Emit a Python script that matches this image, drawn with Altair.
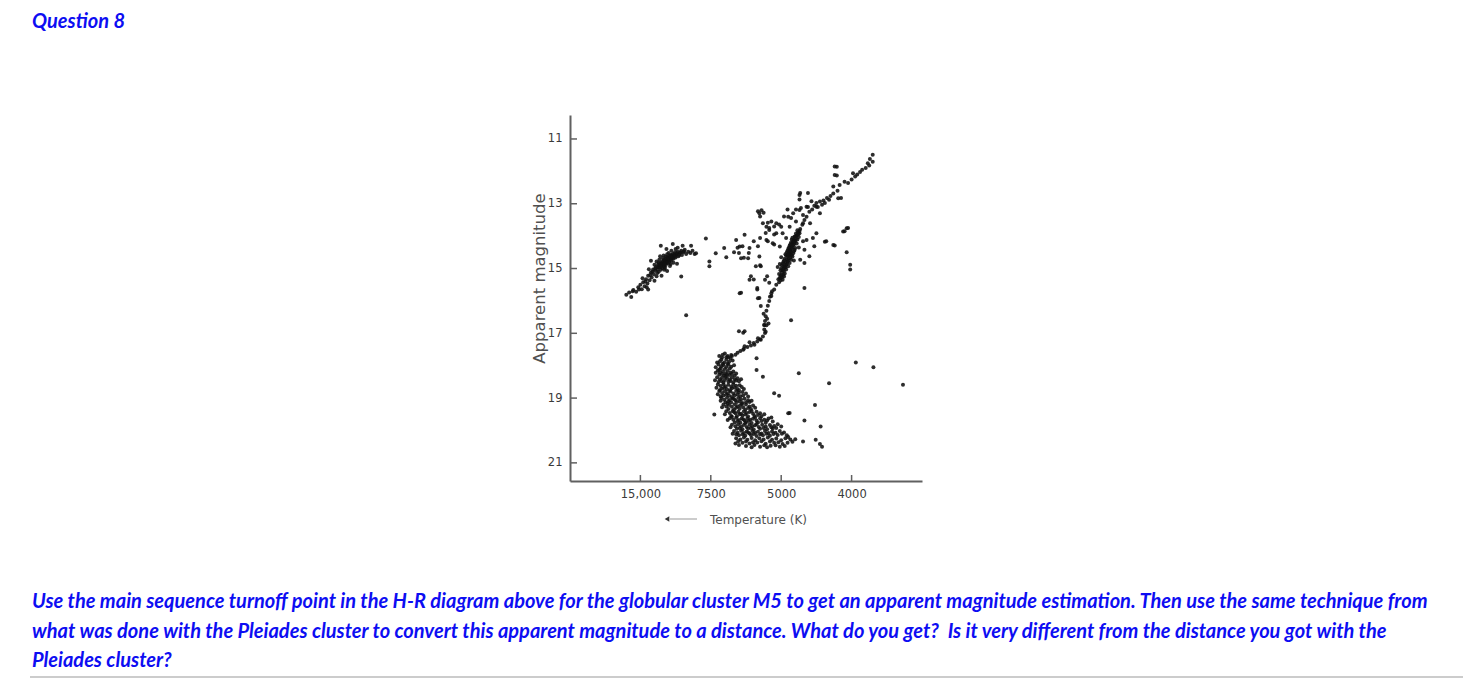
import altair as alt
import pandas as pd

# ---------------- data (color index: 0=15,000 K, 1=7500 K, 2=5000 K, 3=4000 K ; apparent magnitude) -------------
hb_points = [
    (-0.20, 15.81), (-0.13, 15.88), (-0.16, 15.74), (-0.10, 15.66), (-0.06, 15.72), (-0.03, 15.58), (0.00, 15.50),
    (0.02, 15.64), (0.04, 15.42), (0.06, 15.55), (0.08, 15.33), (0.10, 15.46), (0.11, 15.22), (0.13, 15.36),
    (0.15, 15.12), (0.15, 14.76), (0.16, 15.28), (0.18, 15.03), (0.19, 15.18), (0.21, 15.07), (0.22, 14.95),
    (0.23, 15.24), (0.24, 15.02), (0.25, 14.88), (0.26, 15.10), (0.27, 14.96), (0.28, 14.84), (0.29, 15.04),
    (0.30, 14.91), (0.31, 14.79), (0.31, 14.99), (0.32, 14.87), (0.33, 14.74), (0.34, 14.94), (0.35, 14.81),
    (0.36, 14.70), (0.36, 14.89), (0.37, 14.77), (0.38, 14.65), (0.39, 14.84), (0.40, 14.72), (0.41, 14.62),
    (0.41, 14.80), (0.42, 14.68), (0.43, 14.58), (0.44, 14.75), (0.45, 14.64), (0.46, 14.55), (0.47, 14.70),
    (0.48, 14.60), (0.49, 14.50), (0.50, 14.66), (0.51, 14.56), (0.53, 14.48), (0.54, 14.62), (0.56, 14.52),
    (0.58, 14.45), (0.59, 14.58), (0.61, 14.50), (0.63, 14.42), (0.65, 14.55), (0.68, 14.48), (0.71, 14.52),
    (0.74, 14.45), (0.77, 14.55), (0.79, 14.53), (0.29, 14.30), (0.46, 14.24), (0.60, 14.30), (0.72, 14.30),
    (0.37, 14.40), (0.53, 14.36), (0.52, 14.85), (0.58, 15.25), (0.38, 15.08), (0.30, 15.22), (0.20, 15.38),
    (0.09, 15.58), (0.12, 15.02), (0.24, 15.14), (0.42, 14.92), (0.47, 14.82), (0.34, 15.04), (0.44, 14.45),
    (0.50, 14.40), (0.33, 14.60), (0.40, 14.52), (0.27, 14.72), (0.20, 14.88), (0.23, 14.78), (0.38, 14.56),
    (0.32, 14.68), (0.28, 14.62), (0.35, 14.98), (0.43, 14.86), (0.25, 14.95), (0.31, 14.85), (0.39, 14.76),
    (0.45, 14.68), (0.36, 14.64), (-0.11, 15.70), (0.11, 15.65), (0.03, 15.30),
    (0.27, 14.88), (0.30, 14.83), (0.33, 14.90), (0.35, 14.76), (0.37, 14.82), (0.40, 14.67), (0.42, 14.74),
    (0.44, 14.60), (0.46, 14.66), (0.48, 14.56), (0.50, 14.61), (0.52, 14.53), (0.26, 14.82), (0.29, 14.96),
    (0.34, 14.86), (0.39, 14.70), (0.43, 14.64), (0.55, 14.58), (0.57, 14.50), (0.62, 14.47), (0.21, 15.00),
    (0.17, 15.10), (0.14, 15.20), (0.07, 15.40), (-0.02, 15.65),
]

scatter_points = [
    (0.93, 14.07), (0.98, 14.78), (0.98, 14.93), (1.07, 14.53), (1.19, 14.37), (1.22, 14.65), (1.36, 14.12),
    (1.33, 14.50), (1.41, 14.32), (1.43, 14.68), (1.53, 14.68), (1.55, 14.37), (1.48, 13.96), (1.69, 13.29),
    (1.72, 13.20), (1.69, 14.63), (1.70, 14.90), (1.55, 15.35), (1.41, 15.76), (1.66, 15.60), (1.77, 15.35),
    (1.84, 15.87), (1.38, 14.36), (1.40, 14.52), (1.45, 14.31), (1.47, 14.67), (1.54, 14.52), (1.61, 14.16),
    (1.67, 14.31), (1.70, 14.06), (1.81, 14.16), (1.90, 14.26), (1.57, 15.24), (1.61, 15.34), (1.64, 14.93),
    (1.71, 14.93), (1.80, 15.24), (1.83, 15.44), (1.66, 15.65), (1.69, 15.91), (1.67, 13.23), (1.75, 13.28),
    (1.70, 13.39), (1.81, 13.59), (1.83, 13.75), (1.90, 13.70), (1.97, 13.64), (1.78, 13.90), (1.90, 13.95),
    (2.04, 13.39), (2.09, 13.18), (2.14, 13.44), (2.21, 13.18), (2.28, 13.13), (2.27, 12.67), (2.38, 12.67),
    (2.26, 12.87), (2.43, 12.92), (2.47, 14.31), (2.64, 14.16), (2.76, 14.29), (2.79, 11.86), (2.79, 12.13),
    (2.85, 12.82), (2.95, 13.75), (2.90, 13.85), (2.93, 14.50), (2.98, 14.88), (2.98, 15.03), (2.33, 15.60),
    (2.14, 16.60), (0.65, 16.44), (1.86, 15.76), (1.67, 15.92), (1.74, 13.60), (1.79, 13.71), (1.86, 13.55),
    (1.93, 13.60), (2.00, 13.71), (2.10, 13.40), (2.17, 13.29), (2.26, 13.19), (2.31, 13.35), (2.36, 13.09),
    (2.26, 12.73), (2.50, 13.09), (2.55, 13.29), (2.41, 13.60), (2.31, 13.60), (2.21, 13.55), (2.12, 13.71),
    (2.02, 13.91), (1.93, 13.91), (1.83, 13.81), (1.79, 14.12), (1.88, 14.22), (1.98, 14.32), (2.07, 14.06),
    (2.26, 13.91), (2.36, 14.12), (2.45, 14.06), (2.50, 13.91), (2.62, 14.17), (2.74, 14.27), (2.88, 13.86),
    (2.93, 13.76), (2.31, 14.16), (2.33, 14.42), (2.27, 14.73), (2.33, 14.83), (2.40, 14.62),
]

rgb_points = [
    (1.97, 15.42), (1.99, 15.36), (1.98, 15.30), (2.01, 15.27), (2.00, 15.21), (1.97, 15.17), (2.03, 15.19),
    (2.01, 15.12), (2.04, 15.08), (1.99, 15.05), (2.03, 15.01), (2.06, 14.97), (2.00, 14.99), (2.04, 14.92),
    (2.07, 14.88), (2.01, 14.90), (2.10, 14.93), (2.06, 14.82), (2.09, 14.78), (2.03, 14.80), (2.12, 14.83),
    (2.08, 14.72), (2.11, 14.68), (2.05, 14.70), (2.14, 14.73), (2.09, 14.62), (2.12, 14.58), (2.07, 14.60),
    (2.16, 14.63), (2.11, 14.52), (2.14, 14.48), (2.08, 14.50), (2.17, 14.53), (2.12, 14.42), (2.15, 14.38),
    (2.10, 14.40), (2.19, 14.43), (2.14, 14.32), (2.17, 14.28), (2.12, 14.30), (2.16, 14.22), (2.19, 14.18),
    (2.14, 14.20), (2.22, 14.23), (2.18, 14.12), (2.21, 14.08), (2.15, 14.10), (2.19, 14.02), (2.22, 13.98),
    (2.25, 14.03), (2.21, 13.92), (2.24, 13.88), (1.95, 14.95), (2.00, 14.65), (2.25, 14.35), (2.18, 14.75),
    (2.05, 15.15), (2.13, 14.55), (2.09, 14.45), (2.20, 14.37), (2.02, 14.85), (2.16, 14.05),
    (1.96, 15.33), (2.02, 15.35), (1.99, 15.24), (2.04, 15.25), (2.02, 15.05), (2.07, 15.03), (1.98, 14.86),
    (2.05, 14.95), (2.08, 14.86), (2.10, 14.75), (2.04, 14.75), (2.13, 14.67), (2.06, 14.56), (2.10, 14.57),
    (2.15, 14.58), (2.13, 14.45), (2.18, 14.47), (2.11, 14.35), (2.16, 14.35), (2.18, 14.25), (2.13, 14.25),
    (2.20, 14.15), (2.17, 14.16), (2.23, 14.10), (2.20, 14.00), (2.24, 13.95), (2.26, 13.84), (2.23, 13.82),
    (2.27, 13.78), (2.30, 13.65), (2.33, 13.50), (2.36, 13.40), (2.40, 13.25), (2.44, 13.18), (2.38, 13.10),
    (2.47, 13.06), (2.50, 12.98), (2.55, 12.93), (2.60, 12.90), (2.58, 13.03), (2.65, 12.82), (2.70, 12.76),
    (2.74, 12.68), (2.80, 12.60), (2.83, 12.42), (2.74, 12.47), (2.90, 12.32), (2.95, 12.36), (3.00, 12.25),
    (3.02, 12.06), (3.05, 12.16), (3.08, 12.10), (3.12, 12.02), (3.15, 11.95), (3.20, 11.90), (3.23, 11.75),
    (3.25, 11.82), (3.30, 11.70), (3.30, 11.49), (3.26, 11.62), (2.76, 11.85), (2.76, 12.11), (2.81, 12.83),
    (2.68, 12.88), (2.62, 12.98), (2.52, 13.10),
]

sgb_points = [
    (1.90, 15.65), (1.86, 15.85), (1.83, 16.00), (1.81, 16.15), (1.79, 16.30), (1.78, 16.47), (1.77, 16.62),
    (1.79, 16.75), (1.76, 16.88), (1.77, 16.99), (1.74, 17.10), (1.71, 17.20), (1.66, 17.25), (1.61, 17.30),
    (1.57, 17.38), (1.52, 17.42), (1.47, 17.48), (1.42, 17.55), (1.38, 17.60), (1.35, 17.66), (1.30, 17.70),
    (1.25, 17.74), (1.80, 16.55), (1.75, 16.40), (1.82, 16.70), (1.78, 16.95), (1.70, 17.18), (1.55, 17.28),
    (1.62, 17.35), (1.48, 17.40), (1.46, 16.98), (1.76, 16.74), (1.67, 17.15), (1.46, 17.51), (1.29, 17.67),
    (1.71, 16.16), (1.43, 15.75), (1.48, 16.94), (1.93, 15.50), (1.87, 15.70), (1.40, 16.94),
]

ms_points = [
    (1.20, 17.62), (1.24, 17.70), (1.16, 17.75), (1.28, 17.78), (1.22, 17.82), (1.13, 17.86), (1.19, 17.90),
    (1.26, 17.88), (1.31, 17.84), (1.11, 17.96), (1.15, 18.02), (1.18, 17.98), (1.22, 18.04), (1.25, 17.97),
    (1.29, 18.03), (1.33, 17.99), (1.14, 18.08), (1.20, 18.10), (1.27, 18.09), (1.10, 18.15), (1.13, 18.21),
    (1.17, 18.17), (1.21, 18.23), (1.24, 18.16), (1.28, 18.22), (1.32, 18.18), (1.36, 18.24), (1.12, 18.28),
    (1.19, 18.30), (1.26, 18.29), (1.34, 18.31), (1.09, 18.36), (1.13, 18.42), (1.16, 18.37), (1.20, 18.44),
    (1.23, 18.38), (1.27, 18.43), (1.30, 18.36), (1.34, 18.42), (1.38, 18.39), (1.11, 18.50), (1.18, 18.52),
    (1.25, 18.49), (1.32, 18.51), (1.40, 18.48), (1.10, 18.58), (1.14, 18.63), (1.18, 18.57), (1.21, 18.64),
    (1.25, 18.59), (1.29, 18.65), (1.32, 18.57), (1.36, 18.62), (1.41, 18.60), (1.44, 18.66), (1.16, 18.71),
    (1.23, 18.73), (1.30, 18.70), (1.38, 18.72), (1.12, 18.78), (1.16, 18.84), (1.20, 18.79), (1.24, 18.85),
    (1.28, 18.80), (1.32, 18.86), (1.36, 18.78), (1.40, 18.83), (1.45, 18.81), (1.50, 18.86), (1.18, 18.92),
    (1.26, 18.93), (1.34, 18.91), (1.42, 18.94), (1.14, 18.95), (1.15, 19.00), (1.19, 19.05), (1.23, 18.99),
    (1.27, 19.06), (1.31, 19.01), (1.35, 19.07), (1.39, 19.00), (1.43, 19.04), (1.48, 19.02), (1.53, 19.07),
    (1.21, 19.13), (1.29, 19.14), (1.37, 19.12), (1.45, 19.15), (1.55, 19.12), (1.18, 19.20), (1.22, 19.26),
    (1.26, 19.21), (1.30, 19.27), (1.34, 19.19), (1.38, 19.25), (1.42, 19.22), (1.46, 19.28), (1.50, 19.20),
    (1.55, 19.26), (1.60, 19.23), (1.25, 19.34), (1.33, 19.35), (1.41, 19.33), (1.49, 19.36), (1.57, 19.34),
    (1.22, 19.41), (1.27, 19.46), (1.31, 19.40), (1.35, 19.47), (1.39, 19.42), (1.43, 19.48), (1.47, 19.41),
    (1.51, 19.46), (1.55, 19.43), (1.60, 19.48), (1.65, 19.42), (1.70, 19.47), (1.29, 19.55), (1.37, 19.56),
    (1.45, 19.54), (1.53, 19.57), (1.62, 19.55), (1.72, 19.56), (1.27, 19.62), (1.32, 19.67), (1.36, 19.61),
    (1.40, 19.68), (1.44, 19.63), (1.48, 19.69), (1.52, 19.62), (1.56, 19.67), (1.60, 19.64), (1.65, 19.69),
    (1.70, 19.62), (1.76, 19.67), (1.82, 19.63), (1.34, 19.75), (1.42, 19.76), (1.50, 19.74), (1.58, 19.77),
    (1.67, 19.75), (1.78, 19.76), (1.88, 19.72), (1.30, 19.82), (1.35, 19.87), (1.39, 19.81), (1.43, 19.88),
    (1.47, 19.83), (1.51, 19.89), (1.55, 19.82), (1.59, 19.87), (1.63, 19.84), (1.68, 19.89), (1.73, 19.82),
    (1.78, 19.88), (1.84, 19.83), (1.90, 19.86), (1.95, 19.81), (1.37, 19.95), (1.45, 19.96), (1.53, 19.94),
    (1.61, 19.97), (1.70, 19.95), (1.80, 19.96), (1.88, 19.94), (1.33, 20.02), (1.38, 20.07), (1.43, 20.01),
    (1.47, 20.08), (1.51, 20.03), (1.55, 20.09), (1.59, 20.02), (1.63, 20.07), (1.67, 20.04), (1.72, 20.09),
    (1.77, 20.02), (1.82, 20.08), (1.87, 20.03), (1.92, 20.07), (1.98, 20.02), (2.04, 20.06), (1.40, 20.15),
    (1.49, 20.16), (1.57, 20.14), (1.65, 20.17), (1.74, 20.15), (1.84, 20.16), (1.95, 20.14), (2.08, 20.15),
    (1.36, 20.24), (1.42, 20.28), (1.47, 20.22), (1.52, 20.29), (1.58, 20.23), (1.63, 20.30), (1.69, 20.24),
    (1.75, 20.28), (1.81, 20.22), (1.87, 20.29), (1.93, 20.25), (2.00, 20.30), (2.06, 20.24), (2.13, 20.28),
    (1.45, 20.38), (1.55, 20.40), (1.66, 20.37), (1.78, 20.41), (1.90, 20.38), (2.02, 20.42), (1.50, 20.48),
    (1.70, 20.50), (1.85, 20.47), (1.98, 20.50), (1.40, 20.45), (2.16, 20.35),
    (1.12, 17.70), (1.17, 17.66), (1.22, 17.74), (1.15, 17.81), (1.09, 17.90), (1.24, 17.93), (1.17, 17.94),
    (1.07, 18.05), (1.12, 18.12), (1.16, 18.26), (1.23, 18.27), (1.30, 18.26), (1.07, 18.22), (1.06, 18.45),
    (1.15, 18.47), (1.21, 18.34), (1.28, 18.47), (1.36, 18.46), (1.43, 18.42), (1.08, 18.68), (1.13, 18.75),
    (1.19, 18.68), (1.27, 18.76), (1.34, 18.67), (1.40, 18.76), (1.47, 18.72), (1.10, 18.88), (1.22, 18.89),
    (1.30, 18.97), (1.38, 18.89), (1.46, 18.92), (1.53, 18.95), (1.14, 19.08), (1.25, 19.10), (1.33, 19.03),
    (1.41, 19.10), (1.50, 19.13), (1.58, 19.08), (1.16, 19.28), (1.24, 19.17), (1.36, 19.30), (1.44, 19.18),
    (1.53, 19.31), (1.63, 19.30), (1.20, 19.50), (1.33, 19.43), (1.41, 19.50), (1.49, 19.51), (1.58, 19.40),
    (1.67, 19.52), (1.76, 19.50), (1.24, 19.68), (1.30, 19.58), (1.38, 19.71), (1.46, 19.65), (1.54, 19.71),
    (1.63, 19.60), (1.72, 19.71), (1.80, 19.69), (1.86, 19.60), (1.28, 19.90), (1.41, 19.92), (1.49, 19.78),
    (1.57, 19.92), (1.65, 19.80), (1.75, 19.92), (1.86, 19.90), (1.93, 19.92), (2.00, 19.88), (1.31, 20.10),
    (1.36, 20.12), (1.45, 20.12), (1.53, 20.06), (1.61, 20.11), (1.70, 20.12), (1.79, 20.10), (1.89, 20.11),
    (2.01, 20.10), (2.10, 20.20), (1.39, 20.33), (1.50, 20.34), (1.60, 20.36), (1.72, 20.33), (1.84, 20.34),
    (1.96, 20.36), (2.09, 20.38), (2.20, 20.27), (1.35, 20.40), (1.62, 20.45), (1.76, 20.46), (1.92, 20.46),
    (2.05, 20.48), (1.58, 20.52), (1.80, 20.52),
]

ms_outliers = [
    (1.05, 19.51), (1.65, 17.77), (1.65, 18.13), (1.74, 18.34), (1.90, 18.85), (1.97, 18.93), (2.10, 19.47),
    (2.33, 19.69), (2.56, 19.88), (2.48, 19.21), (2.25, 18.23), (2.68, 18.54), (3.06, 17.90), (3.31, 18.05),
    (3.73, 18.59), (2.49, 20.29), (2.58, 20.50), (2.55, 20.42), (2.31, 20.34), (1.76, 16.74), (2.12, 19.46),
]

x_tick_values = [0, 1, 2, 3]
x_tick_labels = ["15,000", "7500", "5000", "4000"]
y_tick_values = [11, 13, 15, 17, 19, 21]

heading = "Question 8"
question_lines = [
    "Use the main sequence turnoff point in the H-R diagram above for the globular cluster M5 to get an apparent magnitude estimation. Then use the same technique from",
    "what was done with the Pleiades cluster to convert this apparent magnitude to a distance. What do you get?\u00a0 Is it very different from the distance you got with the",
    "Pleiades cluster?",
]

# ---------------- chart -------------
all_pts = hb_points + scatter_points + rgb_points + sgb_points + ms_points + ms_outliers
df = pd.DataFrame(all_pts, columns=["color", "mag"])

W, H = 352, 366
xscale = alt.Scale(domain=[-1.0, 4.0], nice=False, zero=False)
yscale = alt.Scale(domain=[10.26, 21.56], nice=False, zero=False, reverse=True)
label_expr = "[" + ",".join("'%s'" % s for s in x_tick_labels) + "][datum.value]"
AX_FONT = "DejaVu Sans"
AX_COL = "#606060"

x_axis = alt.Axis(
    values=x_tick_values, labelExpr=label_expr, ticks=False, grid=False,
    domainColor=AX_COL, domainWidth=2, labelFont=AX_FONT, labelFontSize=11.5, labelColor="#3a3a3a",
    labelPadding=7, title="Temperature (K)", titleFont=AX_FONT, titleFontSize=12, titleFontWeight="normal",
    titleColor="#505050", titleX=188, titleY=38, titleAlign="center", titleBaseline="middle")
y_axis = alt.Axis(
    values=y_tick_values, ticks=False, grid=False,
    domainColor=AX_COL, domainWidth=2, labelFont=AX_FONT, labelFontSize=11.5, labelColor="#3a3a3a",
    labelPadding=8, title="Apparent magnitude", titleFont=AX_FONT, titleFontSize=16.5,
    titleFontWeight="normal", titleColor="#505050", titleX=-31, titleY=163, titleAngle=270,
    titleAlign="center", titleBaseline="middle")

points = alt.Chart(df).mark_circle(size=16, color="#111111", opacity=0.88).encode(
    x=alt.X("color:Q", scale=xscale, axis=x_axis),
    y=alt.Y("mag:Q", scale=yscale, axis=y_axis),
)

xt = pd.DataFrame({"color": x_tick_values})
yt = pd.DataFrame({"mag": y_tick_values})
x_ticks = alt.Chart(xt).mark_rule(color=AX_COL, strokeWidth=1.5).encode(
    x=alt.X("color:Q", scale=xscale, axis=x_axis), y=alt.value(H), y2=alt.value(H - 6))
y_ticks = alt.Chart(yt).mark_rule(color=AX_COL, strokeWidth=1.5).encode(
    y=alt.Y("mag:Q", scale=yscale, axis=y_axis), x=alt.value(0), x2=alt.value(7))

one = pd.DataFrame({"k": [0]})
arrow_line = alt.Chart(one).mark_rule(color="#999999", strokeWidth=1).encode(
    x=alt.value(100), x2=alt.value(127), y=alt.value(H + 38))
arrow_head = alt.Chart(one).mark_point(shape="triangle-left", filled=True, color="#333333",
                                       size=28, opacity=1).encode(
    x=alt.value(97), y=alt.value(H + 38))

BLUE = "#0d0df2"
head_df = pd.DataFrame({"t": [heading]})
head = alt.Chart(head_df).mark_text(font="Lato", fontStyle="italic", fontWeight="bold", fontSize=20,
                                    color=BLUE, align="left", baseline="middle").encode(
    text="t:N", x=alt.value(-538), y=alt.value(-93))

line_layers = []
for ln, yy in zip(question_lines, [487, 517, 546]):
    d = pd.DataFrame({"t": [ln]})
    line_layers.append(alt.Chart(d).mark_text(font="Lato", fontStyle="italic", fontWeight="bold",
                                              fontSize=20, color=BLUE, align="left",
                                              baseline="middle").encode(
        text="t:N", x=alt.value(-538), y=alt.value(yy)))

sep = alt.Chart(one).mark_rule(color="#cccccc", strokeWidth=2).encode(
    x=alt.value(-540), x2=alt.value(895), y=alt.value(562))

chart = alt.layer(points, x_ticks, y_ticks, arrow_line, arrow_head, head, *line_layers, sep).properties(
    width=W, height=H,
    autosize=alt.AutoSizeParams(type="none"),
    padding={"left": 562, "top": 107, "right": 541, "bottom": 200},
    background="white",
).configure_view(stroke=None)

chart.save("out.html", embed_options={"renderer": "svg", "actions": False})
